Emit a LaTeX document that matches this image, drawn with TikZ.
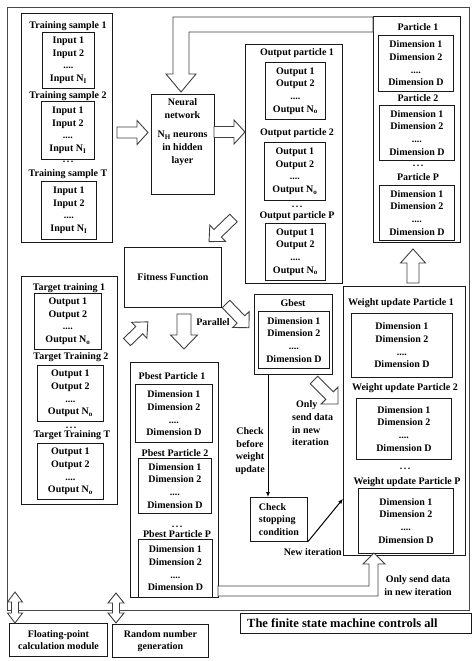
\documentclass[tikz,border=0pt]{standalone}
\usepackage{fontspec}
\setmainfont{Liberation Serif}
\usetikzlibrary{arrows.meta}
\newcommand{\dfont}{\bfseries\fontsize{10}{12.7}\selectfont}
\newcommand{\rbox}[7][]{\node[box,#1,anchor=north west,minimum width={(#5-#3)*1pt},minimum height={(#6-#4)*1pt}] (#2) at (#3,#4) {#7};}
\newcommand{\blockarrow}[6]{\draw[harrow,shift={#1},rotate=#2] (0,#4) -- ({#3-#6},#4) -- ({#3-#6},#5) -- (#3,0) -- ({#3-#6},-#5) -- ({#3-#6},-#4) -- (0,-#4) -- cycle;}
\newcommand{\dblarrow}[6]{\draw[harrow] ({#1-#4},{#2+#6}) -- ({#1-#5},{#2+#6}) -- (#1,#2) -- ({#1+#5},{#2+#6}) -- ({#1+#4},{#2+#6}) -- ({#1+#4},{#3-#6}) -- ({#1+#5},{#3-#6}) -- (#1,#3) -- ({#1-#5},{#3-#6}) -- ({#1-#4},{#3-#6}) -- cycle;}
\newcommand{\inlist}{Input 1\\Input 2\\....\\Input N\textsubscript{I}}
\newcommand{\outlist}{Output 1\\Output 2\\....\\Output N\textsubscript{o}}
\newcommand{\dimlist}{Dimension 1\\Dimension 2\\....\\Dimension D}
\newcommand{\tdots}{.\kern1.5pt.\kern1.5pt.}
\begin{document}
\begin{tikzpicture}[x=1pt,y=-1pt]
\tikzset{
  box/.style={draw=black!90, line width=0.8pt, fill=white, inner sep=0pt, font=\dfont, align=center},
  frame/.style={draw=black!72, line width=1.4pt},
  t/.style={font=\dfont, align=center, inner sep=0pt},
  harrow/.style={draw=black!75, line width=0.9pt, fill=white, line join=miter},
  conn/.style={draw=black, line width=1pt, -{Latex[length=5pt,width=4pt]}},
}
\useasboundingbox (0,0) rectangle (474,661);
% outer frame
\rbox[frame]{frame}{7}{7}{469}{610}{}
% training samples
\rbox{tgrp}{21}{13}{112}{242}{}
\node[t] (tt1) at (68,26) {Training sample 1};
\rbox{tr1}{42}{32}{94}{88}{\inlist}
\node[t] (tt2) at (68,96) {Training sample 2};
\rbox{tr2}{41}{101}{94}{159}{\inlist}
\node[t] (tdots) at (68,162) {\tdots};
\node[t] (ttT) at (68,174) {Training sample T};
\rbox{tr3}{41}{181}{96}{239}{\inlist}
% neural network
\rbox{nn}{151}{94}{214}{194}{}
\node[t] (nntext) at (182.5,132) {Neural\\network\\[7pt]N\textsubscript{H} neurons\\in hidden\\layer};
% output particles
\rbox{ogrp}{245}{44}{342}{283}{}
\node[t] (ot1) at (297,53) {Output particle 1};
\rbox{op1}{265}{62}{325}{119}{\outlist}
\node[t] (ot2) at (297,133) {Output particle 2};
\rbox{op2}{264}{142}{325}{200}{\outlist}
\node[t] (odots) at (297,207) {\tdots};
\node[t] (otP) at (297,216) {Output particle P};
\rbox{op3}{265}{223}{325}{280}{\outlist}
% particles
\rbox{pgrp}{373}{16}{460}{242}{}
\node[t] (pt1) at (418,27) {Particle 1};
\rbox{p1}{378}{35}{453}{91}{\dimlist}
\node[t] (pt2) at (418,98) {Particle 2};
\rbox{p2}{379}{105}{454}{160}{\dimlist}
\node[t] (pdots) at (418,166) {\tdots};
\node[t] (ptP) at (418,177) {Particle P};
\rbox{p3}{379}{185}{454}{240}{\dimlist}
% fitness
\rbox{fit}{124}{247}{221}{307}{Fitness Function}
% target training
\rbox{ggrp}{21}{276}{117}{504}{}
\node[t] (gt1) at (69,288) {Target training 1};
\rbox{tg1}{34}{293}{101}{349}{\outlist}
\node[t] (gt2) at (71,357) {Target Training 2};
\rbox{tg2}{37}{365}{103}{421}{\outlist}
\node[t] (gdots) at (71,428) {\tdots};
\node[t] (gtT) at (72,435) {Target Training T};
\rbox{tg3}{37}{443}{103}{499}{\outlist}
% pbest
\rbox{bgrp}{130}{362}{218}{597}{}
\node[t] (bt1) at (172,376) {Pbest Particle 1};
\rbox{pb1}{135}{384}{212}{442}{\dimlist}
\node[t] (bt2) at (175,453) {Pbest Particle 2};
\rbox{pb2}{138}{458}{211}{513}{\dimlist}
\node[t] (bdots) at (177,527) {\tdots};
\node[t] (btP) at (177,534) {Pbest Particle P};
\rbox{pb3}{138}{539}{212}{597}{\dimlist}
% gbest
\rbox{gbest}{254}{294}{332}{374}{}
\node[t] (gbt) at (293,303) {Gbest};
\rbox{gin}{258}{311}{329}{368}{\dimlist}
% weight update
\rbox{wgrp}{343}{286}{465}{555}{}
\node[t] (wt1) at (401,303) {Weight update Particle 1};
\rbox{w1}{351}{313}{452}{377}{\dimlist}
\node[t] (wt2) at (405,388) {Weight update Particle 2};
\rbox{w2}{356}{398}{451}{459}{\dimlist}
\node[t] (wdots) at (405,469) {\tdots};
\node[t] (wtP) at (407,482) {Weight update Particle P};
\rbox{w3}{358}{488}{453}{553}{\dimlist}
% check stopping
\rbox[align=left]{check}{250}{497}{307}{541}{Check\\stopping\\condition}
% bottom modules
\rbox[line width=1pt]{fsm}{240}{613}{471}{633}{}
\node[t, anchor=west, font=\bfseries\fontsize{12.5}{14}\selectfont] (fsmtext) at (247,623) {The finite state machine controls all};
\rbox[line width=1pt]{flt}{9}{623}{107}{656}{Floating-point\\calculation module}
\rbox[line width=1pt]{rnd}{112}{624}{208}{657}{Random number\\generation}
% labels
\node[t] (par) at (213,322) {Parallel};
\node[t] (cbw) at (250,451) {Check\\before\\weight\\update};
\node[t, anchor=west, align=left] (osd1) at (292,423.5) {\hspace*{4pt}Only\\send data\\in new\\iteration};
\node[t, anchor=east] (newit) at (342,552) {New iteration};
\node[t] (osd2) at (418,585.5) {Only send data\\in new iteration};
% block arrows
\blockarrow{(117,132.5)}{0}{31}{5.5}{12}{11}
\blockarrow{(214,132)}{0}{31}{5.5}{12}{11}
\draw[harrow] (373,17) -- (173,17) -- (173,74) -- (166,74) -- (181,92) -- (196,74) -- (189,74) -- (189,32) -- (373,32) -- cycle;
\blockarrow{(233.5,218)}{224}{34}{5.3}{11.3}{12}
\blockarrow{(127,342)}{44}{29}{5}{11}{12}
\blockarrow{(184,314)}{-90}{35}{7}{13.5}{14}
\blockarrow{(226,304)}{-46}{33}{5.3}{11.5}{11.5}
\blockarrow{(314,380)}{-45}{34}{5.3}{12}{12}
\blockarrow{(413,283)}{90}{34}{6}{12.5}{14}
\draw[harrow] (218,586) -- (369,586) -- (369,564) -- (363,564) -- (374,553) -- (385,564) -- (378,564) -- (378,596) -- (218,596) -- cycle;
\dblarrow{15}{592}{623}{3.5}{7.5}{10}
\dblarrow{116}{593}{623}{3.5}{8}{10}
% connectors
\draw[conn] ([xshift=14pt]gbest.south west) -- ([xshift=18pt]check.north west);
\draw[conn] (check.south east) -- ([yshift=57pt]wgrp.south west);
\end{tikzpicture}
\end{document}
